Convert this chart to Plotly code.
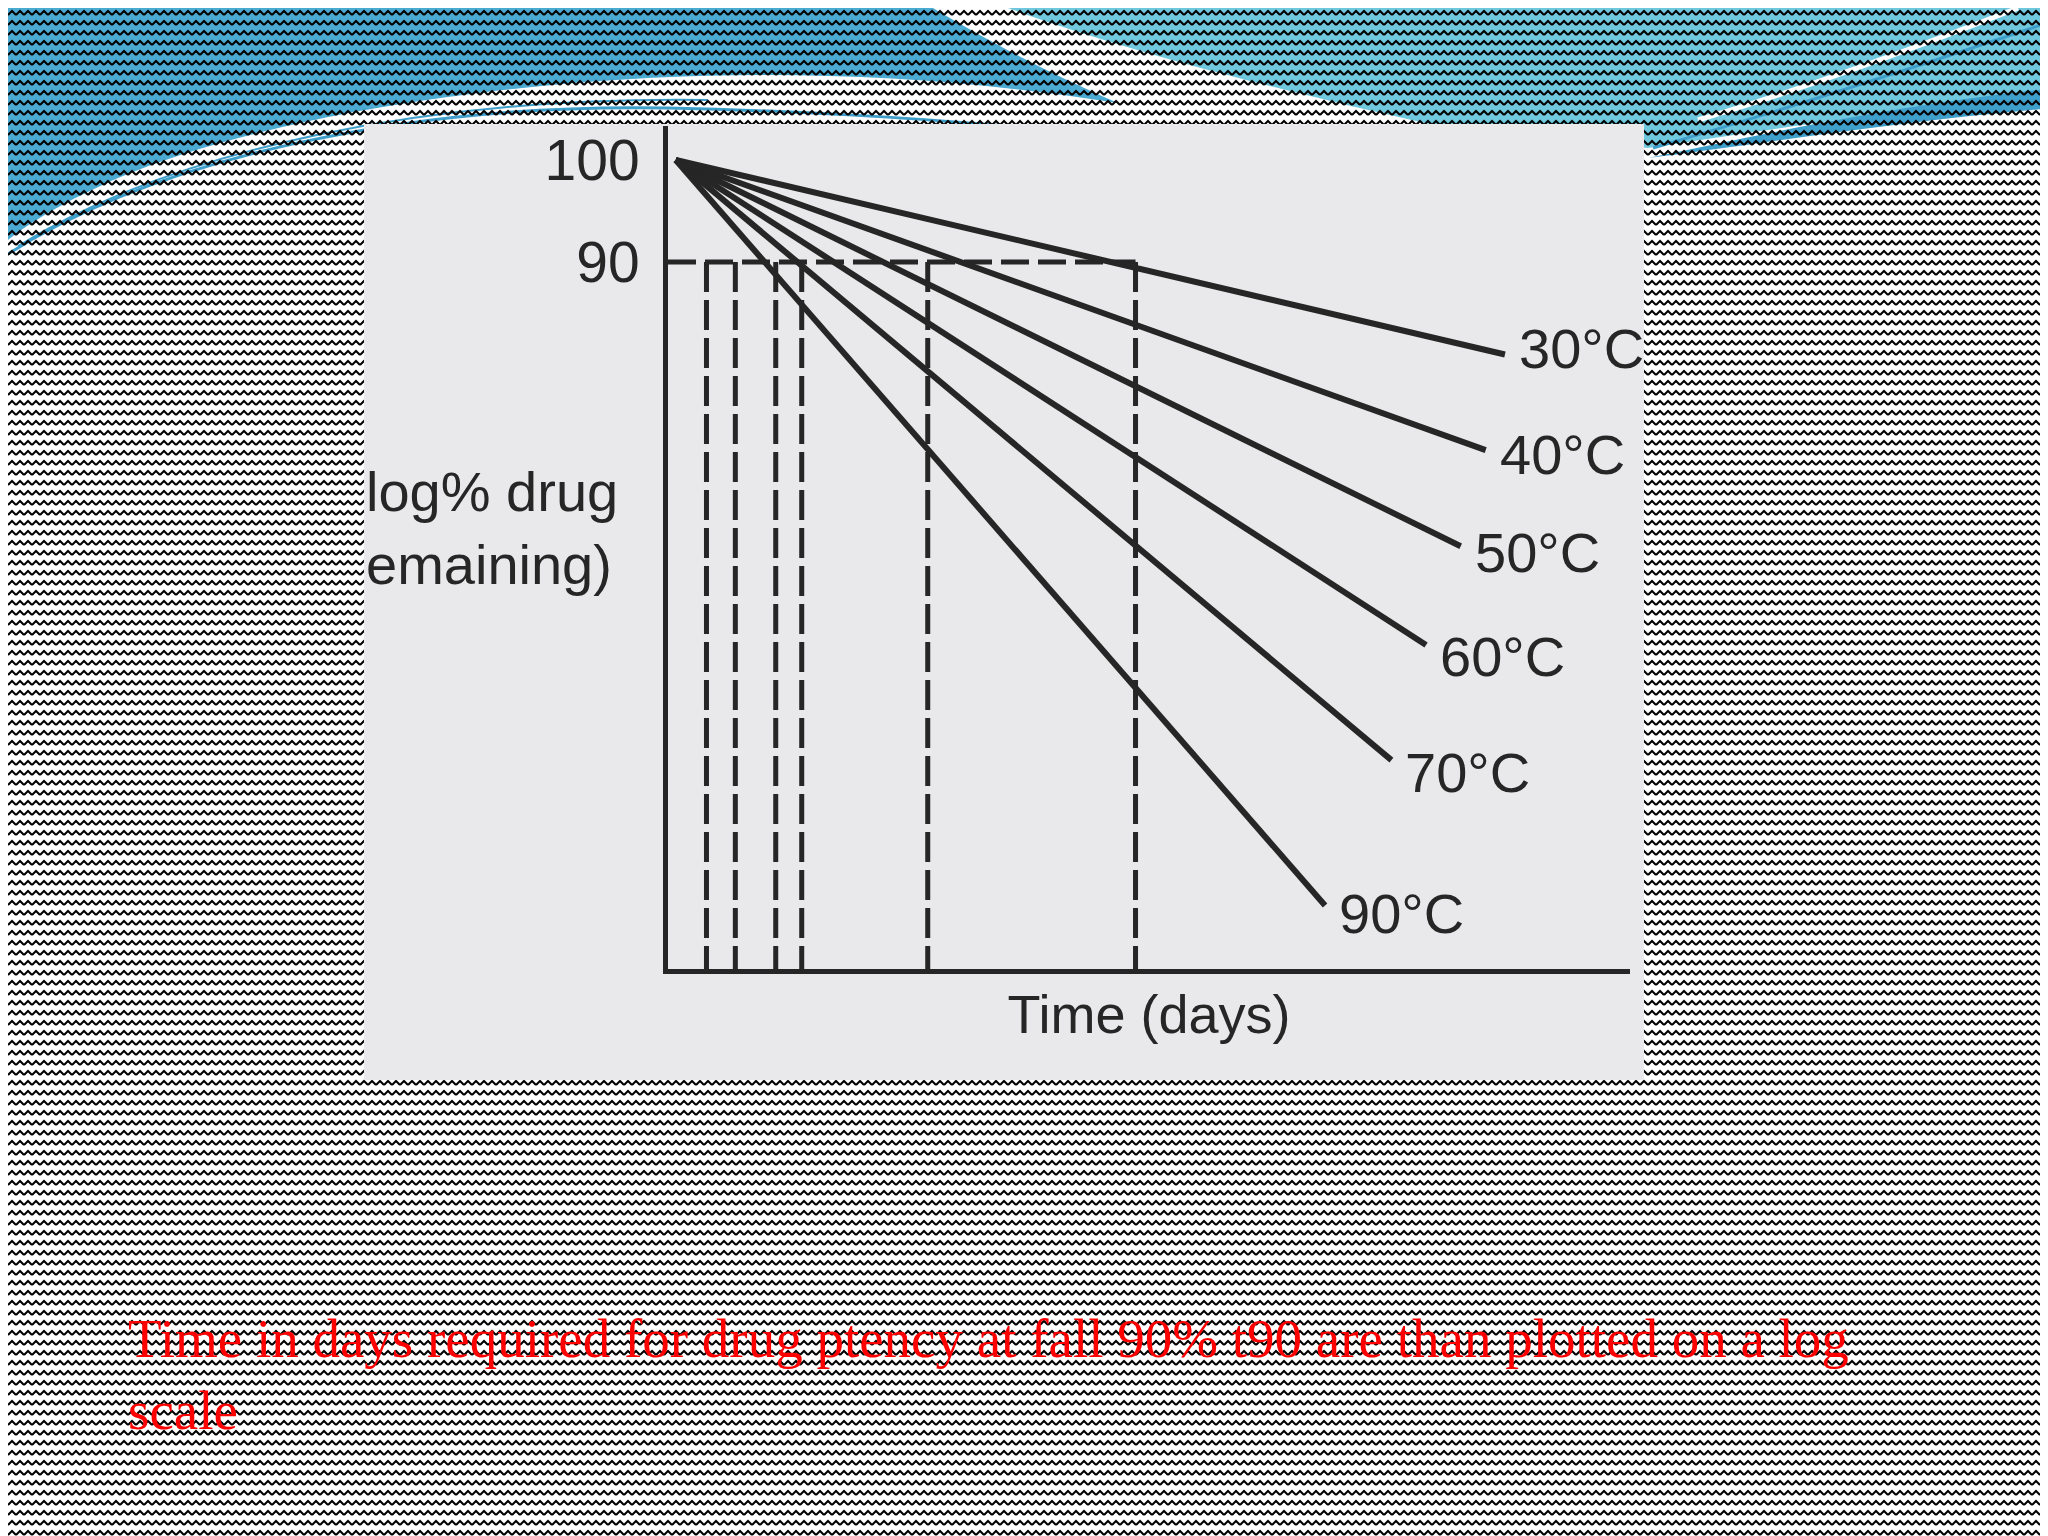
import base64
import math
import plotly.graph_objects as go

# t90 stability plot: log % drug remaining vs time at several temperatures
temps = ["30°C", "40°C", "50°C", "60°C", "70°C", "90°C"]
start_day = 0.8
start_pct = 100
end_days = [87.0, 85.0, 82.4, 78.8, 75.2, 68.3]
end_pct = [81.8, 74.1, 67.1, 60.6, 53.8, 46.3]
t90_days = [4.0, 7.0, 11.2, 13.9, 27.0, 48.6]
t90_level = 90
y_ticks = [90, 100]
y_ticklabels = ["90", "100"]
x_range = [0, 100]
y_range = [43.36, 103.57]

caption = "Time in days required for drug ptency at fall 90% t90 are than plotted on a log<br>scale"

W, H = 2048, 1536
PL, PR, PT, PB = 660, 1622, 118, 961  # plot area in pixels
INK = "#262626"
FONT = "Liberation Sans, Arial, sans-serif"
label_dy = [6, -4, -6, -12, -12, -8]  # nudge of the temperature labels


def px_x(px):
    return (px - PL) / (PR - PL)


def px_y(py):
    return (PB - py) / (PB - PT)


# slide background: blue waves under a zigzag texture
svg = f'''<svg xmlns="http://www.w3.org/2000/svg" width="{W}" height="{H}" viewBox="0 0 {W} {H}">
<defs><pattern id="z" width="8" height="10" patternUnits="userSpaceOnUse">
<polyline points="0,7 4,3 8,7" fill="none" stroke="#000" stroke-width="2"/></pattern></defs>
<rect width="{W}" height="{H}" fill="#ffffff"/>
<path d="M0,0 L925,0 C975,30 1040,65 1110,95 C950,70 800,62 640,70 C420,82 230,120 110,170 C60,192 25,212 0,232 Z" fill="#4aaad2"/>
<path d="M1000,0 L2048,0 L2048,85 C1900,100 1760,122 1640,140 L1430,118 C1260,80 1110,40 1000,0 Z" fill="#70c8de"/>
<path d="M1640,150 C1760,125 1900,95 2048,80 L2048,100 C1900,112 1760,135 1640,150 Z" fill="#3f9fcb"/>
<path d="M1690,112 C1800,80 1920,35 2010,0" fill="none" stroke="#ffffff" stroke-width="5"/>
<path d="M0,246 C150,150 400,95 660,100 C800,103 900,110 1000,118" fill="none" stroke="#3f9fcb" stroke-width="3"/>
<path d="M10,238 C170,140 420,88 700,92" fill="none" stroke="#3f9fcb" stroke-width="2"/>
<path d="M1645,140 C1800,95 1950,45 2048,12" fill="none" stroke="#3f9fcb" stroke-width="3"/>
<rect width="{W}" height="{H}" fill="url(#z)"/>
</svg>'''
bg_src = "data:image/svg+xml;base64," + base64.b64encode(svg.encode("utf-8")).decode("ascii")

fig = go.Figure()

# dashed guides at the 90% level
fig.add_trace(go.Scatter(
    x=[0, max(t90_days)], y=[t90_level, t90_level], mode="lines",
    line=dict(color=INK, width=5, dash="28px,9px"), hoverinfo="skip"))
for t in t90_days:
    fig.add_trace(go.Scatter(
        x=[t, t], y=[t90_level, y_range[0]], mode="lines",
        line=dict(color=INK, width=5, dash="30px,8px"), hoverinfo="skip"))

# degradation lines
for name, d, p, dy in zip(temps, end_days, end_pct, label_dy):
    fig.add_trace(go.Scatter(
        x=[start_day, d], y=[start_pct, p], mode="lines", name=name,
        line=dict(color=INK, width=6)))
    fig.add_annotation(
        x=d, y=math.log10(p), text=name, showarrow=False,
        xanchor="left", yanchor="middle", xshift=12, yshift=dy,
        font=dict(family=FONT, size=56, color=INK))

# y axis title, cut off at the left edge of the scan
fig.add_annotation(
    x=px_x(356), y=px_y(450), xref="paper", yref="paper",
    text="log% drug<br>emaining)", showarrow=False, align="left",
    xanchor="left", yanchor="top",
    font=dict(family=FONT, size=56, color=INK))

fig.add_annotation(
    x=px_x(118), y=px_y(1298), xref="paper", yref="paper",
    text=caption, showarrow=False, align="left",
    xanchor="left", yanchor="top",
    font=dict(family="Liberation Serif, Times New Roman, serif", size=55, color="#ff0000"))

# scanned page behind the chart
fig.add_shape(type="rect", xref="paper", yref="paper",
              x0=px_x(356), x1=px_x(1636), y0=px_y(1072), y1=px_y(116),
              fillcolor="#e9e8ea", line=dict(width=0), layer="below")

fig.add_layout_image(
    source=bg_src, xref="paper", yref="paper",
    x=px_x(0), y=px_y(0), sizex=W / (PR - PL), sizey=H / (PB - PT),
    xanchor="left", yanchor="top", sizing="stretch", layer="below")

fig.update_layout(
    width=W, height=H,
    margin=dict(l=PL, r=W - PR, t=PT, b=H - PB, pad=0),
    paper_bgcolor="#a9a9a9", plot_bgcolor="rgba(0,0,0,0)",
    showlegend=False,
    xaxis=dict(range=x_range, showgrid=False, zeroline=False,
               showticklabels=False, ticks="", showline=True,
               linecolor=INK, linewidth=5,
               title=dict(text="Time (days)", standoff=24,
                          font=dict(family=FONT, size=54, color=INK))),
    yaxis=dict(type="log", range=[math.log10(y_range[0]), math.log10(y_range[1])],
               tickvals=y_ticks, ticktext=y_ticklabels, ticks="",
               showgrid=False, zeroline=False, showline=True,
               linecolor=INK, linewidth=5, ticklabelstandoff=12,
               tickfont=dict(family=FONT, size=57, color=INK)),
)

fig.write_html("out.html")
